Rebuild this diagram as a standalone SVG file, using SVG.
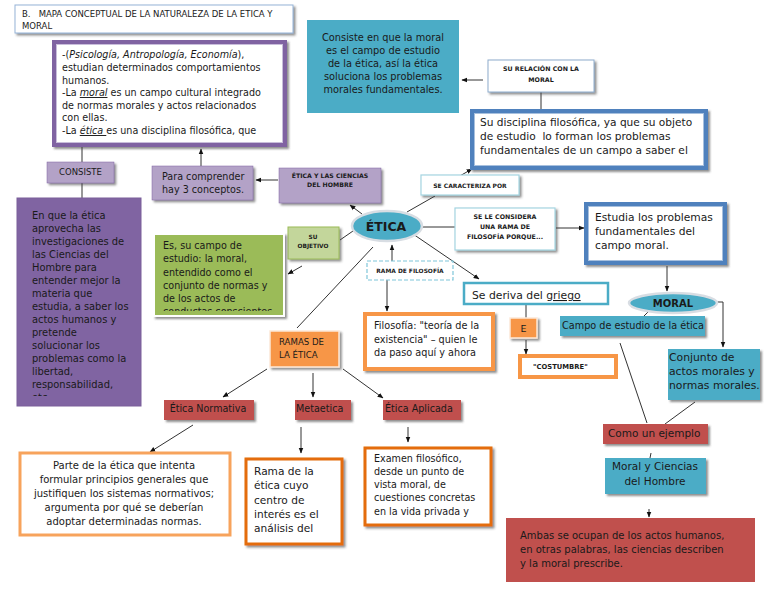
<svg xmlns="http://www.w3.org/2000/svg" width="768" height="594" viewBox="0 0 768 594">
<defs>
<style>
.t{font-family:"DejaVu Sans",sans-serif;fill:#1a1a1a}
.b{font-family:"DejaVu Sans",sans-serif;font-weight:bold;fill:#1a1a1a}
.ln{stroke:#333;stroke-width:1;fill:none}
.ar{stroke:#333;stroke-width:1;fill:none;marker-end:url(#ah)}
.teal{fill:#4bacc6}
.lp{fill:#b3a2c7}
.red{fill:#c0504d}
.org{fill:#f79646}
</style>
<marker id="ah" viewBox="0 0 10 10" refX="9" refY="5" markerWidth="6" markerHeight="6" orient="auto">
<path d="M0,1 L10,5 L0,9 z" fill="#111"/>
</marker>
<filter id="sh" x="-10%" y="-10%" width="130%" height="140%">
<feDropShadow dx="2" dy="2" stdDeviation="0.8" flood-color="#444" flood-opacity="0.6"/>
</filter>
<clipPath id="cpPurple"><rect x="17" y="198" width="124" height="198"/></clipPath>
<clipPath id="cpGreen"><rect x="154" y="233" width="130" height="78"/></clipPath>
</defs>

<g id="connectors">
<line class="ln" x1="82" y1="147" x2="82" y2="162"/>
<line class="ln" x1="82" y1="183" x2="82" y2="198"/>
<line class="ar" x1="201" y1="166" x2="201" y2="149"/>
<line class="ar" x1="278" y1="180" x2="256" y2="180"/>
<line class="ar" x1="362" y1="214" x2="350" y2="205"/>
<line class="ln" x1="407" y1="212" x2="435" y2="196"/>
<line class="ar" x1="458" y1="177" x2="472" y2="169"/>
<line class="ar" x1="483" y1="80" x2="462" y2="80"/>
<line class="ln" x1="541" y1="92" x2="541" y2="111"/>
<line class="ln" x1="422" y1="227" x2="455" y2="227" stroke="#888"/>
<line class="ar" x1="556" y1="228" x2="584" y2="228"/>
<line class="ar" x1="667" y1="266" x2="667" y2="291"/>
<line class="ar" x1="413" y1="234" x2="479" y2="279"/>
<line class="ar" x1="392" y1="261" x2="392" y2="245"/>
<line class="ar" x1="387" y1="280" x2="387" y2="311"/>
<line class="ln" x1="526" y1="305" x2="526" y2="318"/>
<line class="ar" x1="526" y1="340" x2="526" y2="354"/>
<line class="ln" x1="353" y1="231" x2="340" y2="240"/>
<line class="ar" x1="302" y1="266" x2="288" y2="274"/>
<line class="ln" x1="373" y1="247" x2="297" y2="328"/>
<line class="ar" x1="267" y1="369" x2="223" y2="397"/>
<line class="ar" x1="313" y1="373" x2="313" y2="397"/>
<line class="ar" x1="343" y1="369" x2="383" y2="398"/>
<line class="ar" x1="193" y1="425" x2="150" y2="452"/>
<line class="ar" x1="301" y1="427" x2="301" y2="453"/>
<line class="ar" x1="408" y1="427" x2="408" y2="442"/>
<polyline class="ar" points="717,302 723,302 723,347"/>
<line class="ln" x1="648" y1="312" x2="643" y2="317"/>
<line class="ln" x1="620" y1="343" x2="647" y2="423"/>
<line class="ln" x1="695" y1="402" x2="665" y2="424"/>
<line class="ar" x1="649" y1="509" x2="649" y2="517"/>
<line class="ln" x1="651" y1="453" x2="650" y2="458"/>
</g>

<g id="title">
<rect x="15" y="5" width="278" height="28" fill="#fff" stroke="#95b3d7" stroke-width="1" filter="url(#sh)"/>
<text class="t" x="22" y="17" font-size="8.5" xml:space="preserve">B.   MAPA CONCEPTUAL DE LA NATURALEZA DE LA ETICA Y</text>
<text class="t" x="22" y="29" font-size="8.5">MORAL</text>
</g>

<g id="conceptos">
<rect x="54" y="42" width="231" height="103" fill="#fff" stroke="#8064a2" stroke-width="4" filter="url(#sh)"/>
<rect x="56.5" y="44.5" width="226" height="98" fill="none" stroke="#c9bedb" stroke-width="1"/>
<g class="t" font-size="9.6">
<text x="62" y="58">-(<tspan font-style="italic">Psicología, Antropología, Economía</tspan>),</text>
<text x="62" y="71">estudian determinados comportamientos</text>
<text x="62" y="83.5">humanos.</text>
<text x="62" y="96">-La <tspan font-style="italic" text-decoration="underline">moral</tspan> es un campo cultural integrado</text>
<text x="62" y="109">de normas morales y actos relacionados</text>
<text x="62" y="121">con ellas.</text>
<text x="62" y="134">-La <tspan font-style="italic" text-decoration="underline">ética </tspan>es una disciplina filosófica, que</text>
</g>
</g>

<g id="consiste">
<rect x="47" y="162" width="67" height="21" class="lp" stroke="#8064a2" stroke-width="0.5" filter="url(#sh)"/>
<text class="t" x="80.5" y="175" font-size="8.5" text-anchor="middle">CONSISTE</text>
</g>

<g id="consiste-texto">
<rect x="17" y="198" width="124" height="208" fill="#8064a2" stroke="#7a5f9a" stroke-width="1"/>
<g class="t" font-size="9.9" clip-path="url(#cpPurple)">
<text x="32" y="219">En que la ética</text>
<text x="32" y="232">aprovecha las</text>
<text x="32" y="245">investigaciones de</text>
<text x="32" y="258">las Ciencias del</text>
<text x="32" y="271">Hombre para</text>
<text x="32" y="284">entender mejor la</text>
<text x="32" y="297">materia que</text>
<text x="32" y="310">estudia, a saber los</text>
<text x="32" y="323">actos humanos y</text>
<text x="32" y="336">pretende</text>
<text x="32" y="349">solucionar los</text>
<text x="32" y="362">problemas como la</text>
<text x="32" y="375">libertad,</text>
<text x="32" y="388">responsabilidad,</text>
<text x="32" y="401">etc.</text>
</g>
</g>

<g id="comprender">
<rect x="152" y="166" width="101" height="34" class="lp" stroke="#8064a2" stroke-width="0.5" filter="url(#sh)"/>
<text class="t" x="162" y="180" font-size="9.6">Para comprender</text>
<text class="t" x="162" y="193" font-size="9.6">hay 3 conceptos.</text>
</g>

<g id="etica-ciencias">
<rect x="279" y="168" width="102" height="35" class="lp" stroke="#8064a2" stroke-width="0.5" filter="url(#sh)"/>
<text class="b" x="330" y="178" font-size="6.2" text-anchor="middle">ÉTICA Y LAS CIENCIAS</text>
<text class="b" x="330" y="187" font-size="6.2" text-anchor="middle">DEL HOMBRE</text>
</g>

<g id="teal-consiste">
<rect x="307" y="20" width="152" height="93" class="teal"/>
<g class="t" font-size="9.8" text-anchor="middle">
<text x="383" y="41">Consiste en que la moral</text>
<text x="383" y="54">es el campo de estudio</text>
<text x="383" y="67">de la ética, así la ética</text>
<text x="383" y="80">soluciona los problemas</text>
<text x="383" y="93">morales fundamentales.</text>
</g>
</g>

<g id="relacion">
<rect x="488" y="60" width="106" height="32" fill="#fff" stroke="#8eaccc" stroke-width="1" filter="url(#sh)"/>
<text class="b" x="541" y="71" font-size="6.3" text-anchor="middle">SU RELACIÓN CON LA</text>
<text class="b" x="541" y="82" font-size="6.3" text-anchor="middle">MORAL</text>
</g>

<g id="disciplina">
<rect x="472" y="111" width="234" height="57" fill="#fff" stroke="#4f81bd" stroke-width="4" filter="url(#sh)"/>
<rect x="474.5" y="113.5" width="229" height="52" fill="none" stroke="#a7c0de" stroke-width="1"/>
<g class="t" font-size="10.6">
<text x="480" y="126">Su disciplina filosófica, ya que su objeto</text>
<text x="480" y="140" xml:space="preserve">de estudio  lo forman los problemas</text>
<text x="480" y="154">fundamentales de un campo a saber el</text>
</g>
</g>

<g id="caracteriza">
<rect x="421" y="175" width="98" height="20" fill="#fff" stroke="#a5d5e2" stroke-width="1.2" filter="url(#sh)"/>
<text class="b" x="470" y="188" font-size="6" text-anchor="middle">SE CARACTERIZA POR</text>
</g>

<g id="etica">
<ellipse cx="387" cy="226" rx="35" ry="15" class="teal" stroke="#d8dde3" stroke-width="2.5"/>
<text class="b" x="386" y="231" font-size="12.5" text-anchor="middle" fill="#17365d">ÉTICA</text>
</g>

<g id="considera">
<rect x="455" y="208" width="100" height="42" fill="#fff" stroke="#a5d5e2" stroke-width="1.2" filter="url(#sh)"/>
<text class="b" x="505" y="219" font-size="6.3" text-anchor="middle">SE LE CONSIDERA</text>
<text class="b" x="505" y="229" font-size="6.3" text-anchor="middle">UNA RAMA DE</text>
<text class="b" x="505" y="239" font-size="6.3" text-anchor="middle">FILOSOFÍA PORQUE...</text>
</g>

<g id="estudia">
<rect x="586" y="204" width="139" height="59" fill="#fff" stroke="#4f81bd" stroke-width="4" filter="url(#sh)"/>
<rect x="588.5" y="206.5" width="134" height="54" fill="none" stroke="#a7c0de" stroke-width="1"/>
<g class="t" font-size="10.7">
<text x="595" y="221">Estudia los problemas</text>
<text x="595" y="235">fundamentales del</text>
<text x="595" y="249">campo moral.</text>
</g>
</g>

<g id="moral">
<ellipse cx="673" cy="303" rx="44" ry="10" class="teal" stroke="#d8dde3" stroke-width="2.5"/>
<text class="b" x="673" y="307" font-size="10" text-anchor="middle">MORAL</text>
</g>

<g id="campo">
<rect x="560" y="316" width="145" height="20" class="teal" filter="url(#sh)"/>
<text class="t" x="562" y="329" font-size="9.7">Campo de estudio de la ética</text>
</g>

<g id="conjunto">
<rect x="668" y="349" width="92" height="51" class="teal" filter="url(#sh)"/>
<g class="t" font-size="10.8">
<text x="669" y="361">Conjunto de</text>
<text x="669" y="375">actos morales y</text>
<text x="669" y="389">normas morales.</text>
</g>
</g>

<g id="ejemplo">
<rect x="603" y="424" width="105" height="20" class="red" filter="url(#sh)"/>
<text class="t" x="608" y="437" font-size="10.5">Como un ejemplo</text>
</g>

<g id="moral-ciencias">
<rect x="605" y="458" width="101" height="36" class="teal" filter="url(#sh)"/>
<text class="t" x="655" y="470" font-size="10.5" text-anchor="middle">Moral y Ciencias</text>
<text class="t" x="655" y="485" font-size="10.5" text-anchor="middle">del Hombre</text>
</g>

<g id="ambas">
<rect x="506" y="518" width="249" height="64" class="red"/>
<g class="t" font-size="10">
<text x="520" y="539">Ambas se ocupan de los actos humanos,</text>
<text x="520" y="553">en otras palabras, las ciencias describen</text>
<text x="520" y="567">y la moral prescribe.</text>
</g>
</g>

<g id="deriva">
<rect x="464" y="283" width="144" height="21" fill="#fff" stroke="#4bacc6" stroke-width="2.5"/>
<text class="t" x="472" y="299" font-size="10.8">Se deriva del <tspan text-decoration="underline">griego </tspan></text>
</g>

<g id="e">
<rect x="510" y="318" width="27" height="20" class="org" stroke="#fde9d9" stroke-width="1.5" filter="url(#sh)"/>
<text class="t" x="523.5" y="332" font-size="9.5" text-anchor="middle">E</text>
</g>

<g id="costumbre">
<rect x="520" y="356" width="96" height="21" fill="#fff" stroke="#f79646" stroke-width="4"/>
<text class="b" x="533" y="369" font-size="6.8">"COSTUMBRE"</text>
</g>

<g id="rama-filosofia">
<rect x="367" y="261" width="86" height="19" fill="#fff" stroke="#7fc6d9" stroke-width="1.2" stroke-dasharray="4,2"/>
<text class="b" x="410" y="273" font-size="5.9" text-anchor="middle">RAMA DE FILOSOFÍA</text>
</g>

<g id="filosofia">
<rect x="365" y="314" width="128" height="55" fill="#fff" stroke="#f79646" stroke-width="4" filter="url(#sh)"/>
<g class="t" font-size="9.7">
<text x="374" y="329">Filosofía: "teoría de la</text>
<text x="374" y="343">existencia" – quien le</text>
<text x="374" y="356">da paso aquí y ahora</text>
</g>
</g>

<g id="objetivo">
<rect x="288" y="227" width="51" height="32" fill="#c3d69b" stroke="#9bbb59" stroke-width="1" filter="url(#sh)"/>
<text class="b" x="313" y="239" font-size="5.8" text-anchor="middle">SU</text>
<text class="b" x="313" y="248" font-size="5.8" text-anchor="middle">OBJETIVO</text>
</g>

<g id="campo-estudio">
<rect x="154" y="234" width="130" height="82" fill="#9bbb59" stroke="#ffffff" stroke-width="2" filter="url(#sh)"/>
<g class="t" font-size="9.6" clip-path="url(#cpGreen)">
<text x="163" y="249">Es, su campo de</text>
<text x="163" y="262">estudio: la moral,</text>
<text x="163" y="276">entendido como el</text>
<text x="163" y="289">conjunto de normas y</text>
<text x="163" y="302">de los actos de</text>
<text x="163" y="315">conductas conscientes</text>
</g>
</g>

<g id="ramas">
<rect x="270" y="331" width="69" height="36" class="org" stroke="#fde9d9" stroke-width="1.5" filter="url(#sh)"/>
<text class="t" x="279" y="345" font-size="8.6">RAMAS DE</text>
<text class="t" x="279" y="358" font-size="8.6">LA ÉTICA</text>
</g>

<g id="normativa">
<rect x="164" y="400" width="90" height="20" class="red" filter="url(#sh)"/>
<text class="t" x="208" y="412" font-size="9.6" text-anchor="middle">Ética Normativa</text>
</g>

<g id="metaetica">
<rect x="295" y="400" width="56" height="20" class="red" filter="url(#sh)"/>
<text class="t" x="296" y="412" font-size="9.6">Metaetica</text>
</g>

<g id="aplicada">
<rect x="383" y="400" width="78" height="20" class="red" filter="url(#sh)"/>
<text class="t" x="385" y="412" font-size="9.6">Ética Aplicada</text>
</g>

<g id="parte">
<rect x="20" y="453" width="210" height="82" fill="#fff" stroke="#f7a35c" stroke-width="3"/>
<g class="t" font-size="10" text-anchor="middle">
<text x="124" y="469">Parte de la ética que intenta</text>
<text x="124" y="483">formular principios generales que</text>
<text x="124" y="497">justifiquen los sistemas normativos;</text>
<text x="124" y="511">argumenta por qué se deberían</text>
<text x="124" y="525">adoptar determinadas normas.</text>
</g>
</g>

<g id="rama-etica">
<rect x="246" y="459" width="96" height="85" fill="#fff" stroke="#e46c0a" stroke-width="3" filter="url(#sh)"/>
<g class="t" font-size="10.6">
<text x="254" y="475">Rama de la</text>
<text x="254" y="489">ética cuyo</text>
<text x="254" y="504">centro de</text>
<text x="254" y="518">interés es el</text>
<text x="254" y="532">análisis del</text>
</g>
</g>

<g id="examen">
<rect x="365" y="448" width="126" height="77" fill="#fff" stroke="#e46c0a" stroke-width="3" filter="url(#sh)"/>
<g class="t" font-size="9.6">
<text x="374" y="462">Examen filosófico,</text>
<text x="374" y="475">desde un punto de</text>
<text x="374" y="488">vista moral, de</text>
<text x="374" y="501">cuestiones concretas</text>
<text x="374" y="515">en la vida privada y</text>
</g>
</g>
</svg>
